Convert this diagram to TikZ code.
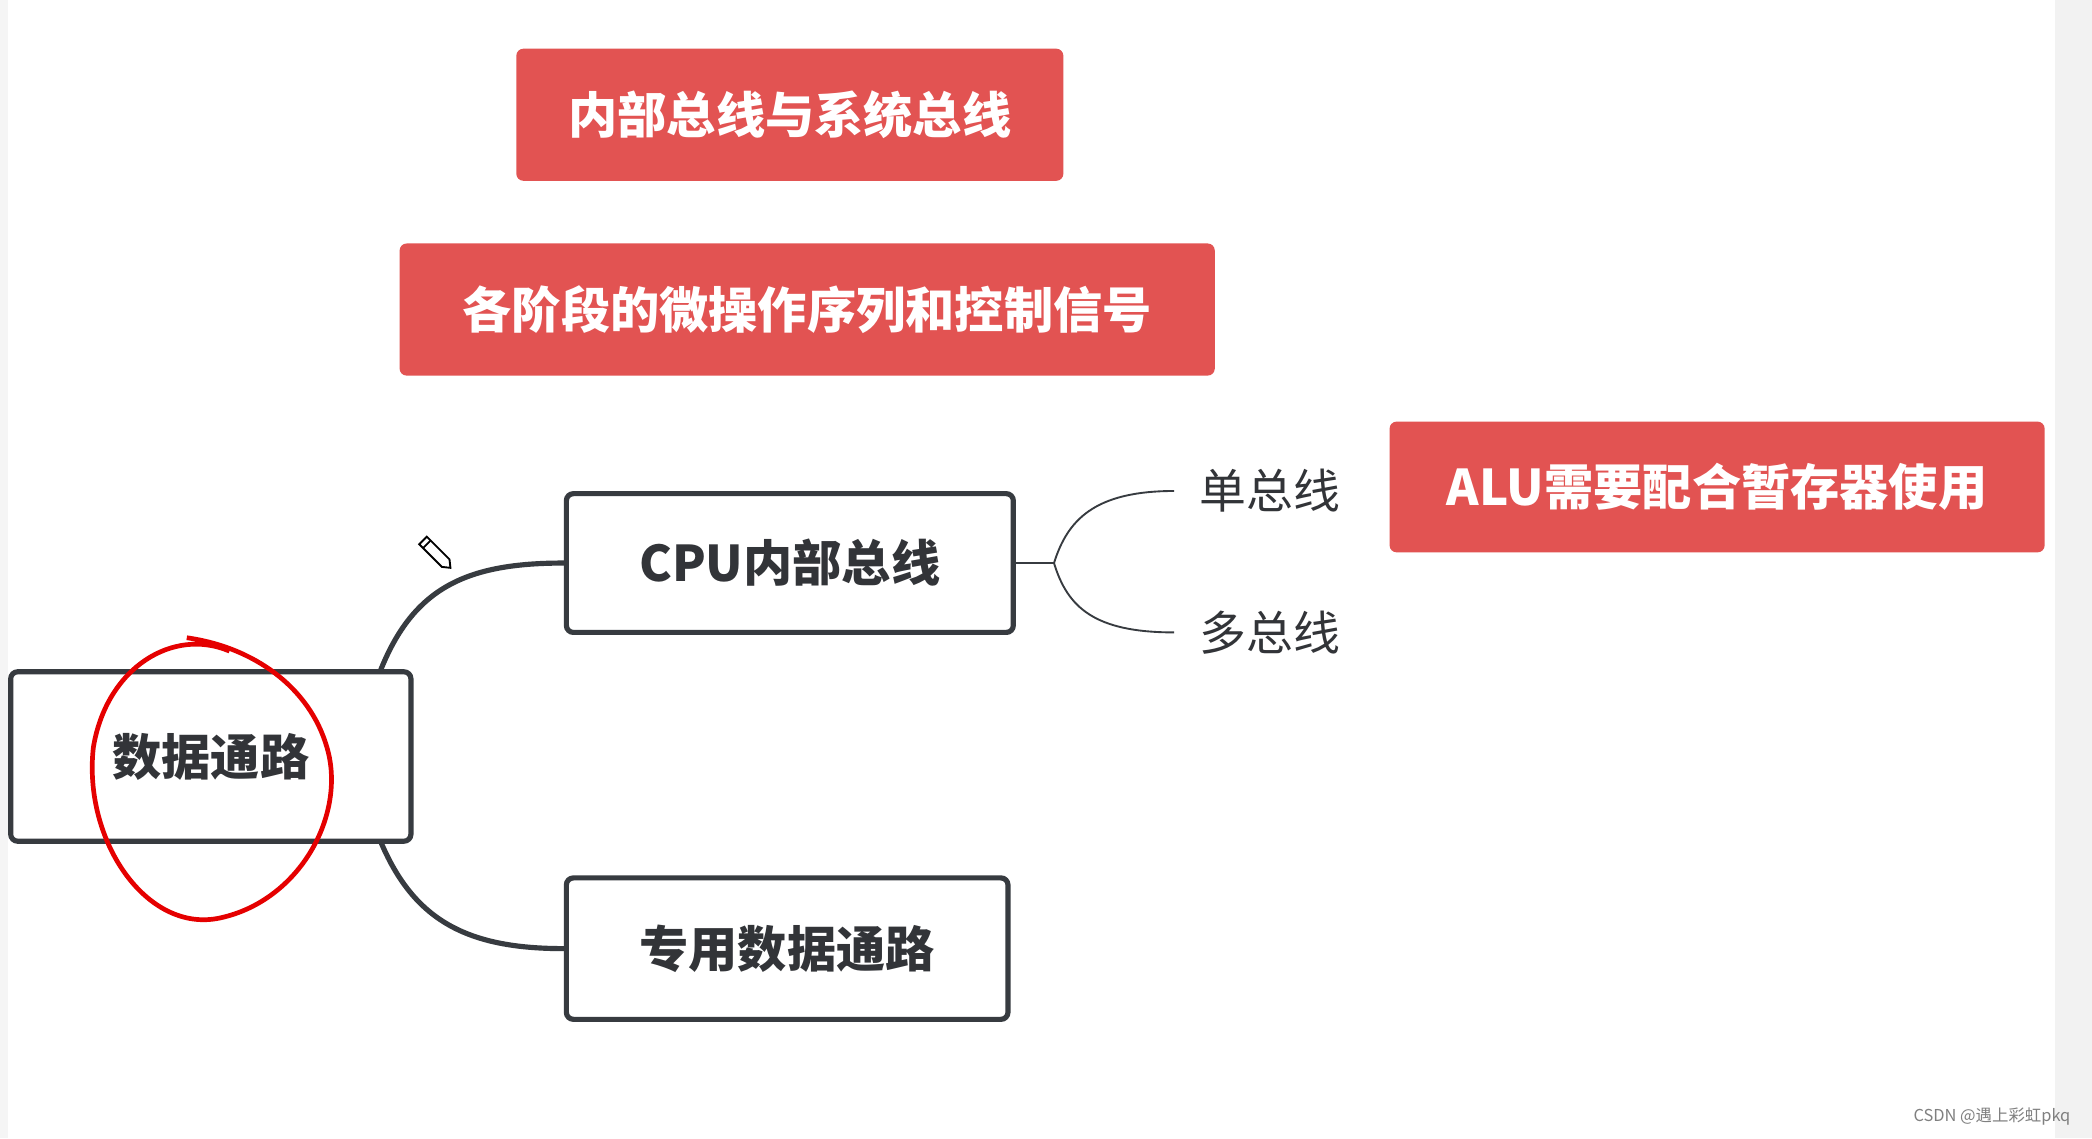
\documentclass[tikz,border=0pt]{standalone}
\usepackage{fontspec}
\setmainfont{Noto Sans CJK SC}
\begin{document}
\begin{tikzpicture}[x=0.02cm,y=-0.02cm,
  red/.style={fill=redbox,rounded corners=3pt,text=white,font=\bfseries\fontsize{21}{24}\selectfont,inner sep=0},
  box/.style={draw=boxline,line width=2.2pt,rounded corners=3pt,fill=white,text=textc,font=\bfseries\fontsize{21}{24}\selectfont,inner sep=0},
  conn/.style={draw=boxline,line width=2.2pt},
  thin/.style={draw=boxline,line width=0.8pt},
  leaf/.style={text=textc,font=\fontsize{20}{24}\selectfont,inner sep=0}]
\definecolor{redbox}{RGB}{226,83,82}
\definecolor{boxline}{RGB}{55,59,64}
\definecolor{textc}{RGB}{50,52,56}
\useasboundingbox (0,0) rectangle (1568,853);
\fill[white] (0,0) rectangle (1568,853);
\fill[gray!10] (1540,0) rectangle (1568,853);
\fill[gray!8] (0,0) rectangle (6,853);
\node[red,minimum width=410*0.02cm,minimum height=99*0.02cm] (r1) at (592,86) {内部总线与系统总线};
\node[red,minimum width=611*0.02cm,minimum height=99*0.02cm] (r2) at (605,232) {各阶段的微操作序列和控制信号};
\node[red,minimum width=491*0.02cm,minimum height=98*0.02cm] (r3) at (1287,365) {ALU需要配合暂存器使用};
\node[box,minimum width=335*0.02cm,minimum height=104*0.02cm] (cpu) at (592,422) {CPU内部总线};
\node[box,minimum width=300*0.02cm,minimum height=127*0.02cm] (root) at (158,567) {数据通路};
\node[box,minimum width=331*0.02cm,minimum height=106*0.02cm] (zy) at (590,711) {专用数据通路};
\node[leaf] (d) at (952,368) {单总线};
\node[leaf] (m) at (952,474) {多总线};
\coordinate (rt) at (285,503);
\coordinate (rb) at (285,630);
\coordinate (j) at (790,422);
\coordinate (de) at (880,368);
\coordinate (me) at (880,474);
\draw[conn] (rt) .. controls (310,440) and (350,422) .. (cpu.west);
\draw[conn] (rb) .. controls (310,690) and (350,711) .. (zy.west);
\draw[thin] (cpu.east) -- (j);
\draw[thin] (j) .. controls (800,390) and (820,368) .. (de);
\draw[thin] (j) .. controls (800,455) and (820,474) .. (me);
\draw[red!90!black,line width=2pt] (172,488) .. controls (130,470) and (80,500) .. (70,560)
  .. controls (62,630) and (110,700) .. (165,688)
  .. controls (225,675) and (260,610) .. (245,560)
  .. controls (232,515) and (190,485) .. (140,478);
\begin{scope}[shift={(327,415)},rotate=-45,line width=0.8pt]
\draw (-14,-4) -- (10,-4) -- (15,0) -- (10,4) -- (-14,4) -- cycle;
\draw (-10,-4) -- (-10,4);
\end{scope}
\node[text=gray,font=\fontsize{7}{8}\selectfont,anchor=east] (wm) at (1558,837) {CSDN @遇上彩虹pkq};
\end{tikzpicture}
\end{document}
